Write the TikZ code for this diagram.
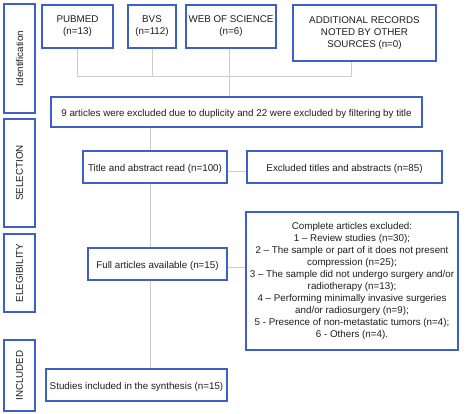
\documentclass[tikz,border=0pt]{standalone}
\usepackage{fontspec}
\setmainfont{Liberation Sans}
\definecolor{bblue}{RGB}{63,95,200}
\definecolor{lgray}{RGB}{205,205,205}
\definecolor{txt}{RGB}{30,30,30}
\begin{document}
\begin{tikzpicture}[x=1pt,y=-1pt,
  box/.style={draw=bblue,line width=1.2pt,fill=white,text=txt,align=center,inner sep=1pt,
    font=\fontsize{9.8}{11.9}\selectfont,execute at begin node={\rule{0pt}{11pt}}},
  side/.style={draw=bblue,fill=white,line width=1.4pt,minimum width=31pt},
  lab/.style={rotate=90,text=txt,font=\fontsize{9.8}{11}\selectfont},
  conn/.style={draw=lgray,line width=0.9pt}]
\useasboundingbox (0,0) rectangle (474,414);
% side labels
\node[side,minimum height=109pt] (id) at (19.5,58.5) {};
\node[lab] (idl) at (id.center) {Identification};
\node[side,minimum height=108pt] (sel) at (19.5,173) {};
\node[lab] (sell) at (sel.center) {SELECTION};
\node[side,minimum height=78pt] (el) at (19.5,273) {};
\node[lab] (ell) at (el.center) {ELEGIBILITY};
\node[side,minimum height=71pt] (inc) at (19.5,375.5) {};
\node[lab] (incl) at (inc.center) {INCLUDED};
% boxes
\node[box,minimum width=71pt,minimum height=43pt] (pub) at (77.5,26.5) {PUBMED\\(n=13)};
\node[box,minimum width=48pt,minimum height=43pt] (bvs) at (152,26.5) {BVS\\(n=112)};
\node[box,minimum width=90pt,minimum height=43pt] (wos) at (231,26.5) {WEB OF SCIENCE\\(n=6)};
\node[box,minimum width=143pt,minimum height=56pt] (add) at (364.5,33) {ADDITIONAL RECORDS\\NOTED BY OTHER\\SOURCES (n=0)};
\node[box,minimum width=371pt,minimum height=30pt] (dup) at (236.5,112) {9 articles were excluded due to duplicity and 22 were excluded by filtering by title};
\node[box,minimum width=144pt,minimum height=32pt] (tit) at (155,167) {Title and abstract read (n=100)};
\node[box,minimum width=195pt,minimum height=32pt] (exc) at (344.5,167) {Excluded titles and abstracts (n=85)};
\node[box,minimum width=139pt,minimum height=32pt] (full) at (157.5,264) {Full articles available (n=15)};
\node[box,minimum width=212pt,minimum height=138pt] (comp) at (352,281) {Complete articles excluded:\\
1 -- Review studies (n=30);\\
2 -- The sample or part of it does not present\\
compression (n=25);\\
3 -- The sample did not undergo surgery and/or\\
radiotherapy (n=13);\\
4 -- Performing minimally invasive surgeries\\
and/or radiosurgery (n=9);\\
5 - Presence of non-metastatic tumors (n=4);\\
6 - Others (n=4).};
\node[box,minimum width=181pt,minimum height=32pt] (stu) at (136.5,385) {Studies included in the synthesis (n=15)};
% connectors
\coordinate (hl) at (0,76);
\coordinate (mx) at (150,0);
\coordinate (wx) at (229,0);
\coordinate (ax) at (351,0);
\draw[conn] (pub.south) -- (pub.south |- hl) -- (ax |- hl) -- (ax |- add.south);
\draw[conn] (bvs.south) -- (bvs.south |- hl);
\draw[conn] (wx |- wos.south) -- (wx |- dup.north);
\draw[conn] (mx |- dup.south) -- (mx |- tit.north);
\draw[conn] (mx |- tit.south) -- (mx |- full.north);
\draw[conn] (mx |- full.south) -- (mx |- stu.north);
\draw[conn] ([yshift=-4pt]tit.east) -- ([yshift=-4pt]tit.east -| exc.west);
\draw[conn] ([yshift=-3pt]full.east) -- ([yshift=-3pt]full.east -| comp.west);
\end{tikzpicture}
\end{document}
